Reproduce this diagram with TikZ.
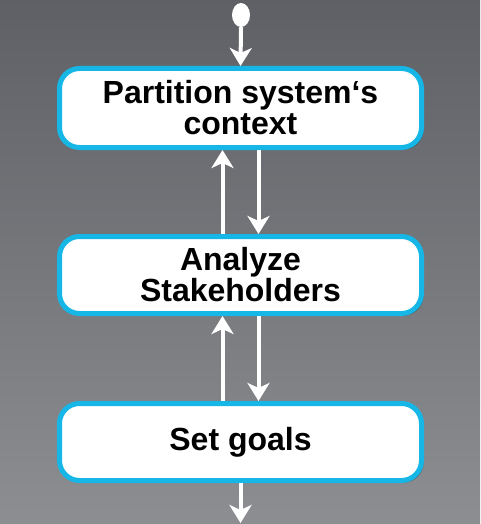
\documentclass[tikz,border=0pt]{standalone}
\usepackage{fontspec}
\setmainfont{Liberation Sans}
\usetikzlibrary{arrows.meta,shapes.geometric,shadows}
\definecolor{bgtop}{RGB}{94,96,101}
\definecolor{bgbot}{RGB}{140,142,145}
\definecolor{boxcyan}{RGB}{22,182,230}
\tikzset{
  stepbox/.style={rectangle, rounded corners=20pt, draw=boxcyan, line width=5pt,
    fill=white, minimum width=362pt, align=center,
    font=\fontsize{32}{31}\selectfont\bfseries, text=black,
    drop shadow={shadow xshift=2pt, shadow yshift=-2pt, opacity=0.45, fill=black}},
  flow/.style={draw=white, line width=4pt,
    -{Stealth[length=18pt,width=22pt,inset=5pt]}},
  startdot/.style={ellipse, fill=white, draw=none, minimum width=18pt, minimum height=24pt, inner sep=0pt}
}
\begin{document}
\begin{tikzpicture}[x=1pt,y=-1pt]
\shade[top color=bgtop, bottom color=bgbot] (0,0) rectangle (480,524);
\useasboundingbox (0,0) rectangle (480,524);
\node[startdot] (dot) at (241,15) {};
\node[stepbox, minimum height=79pt] (b1) at (240.5,108) {Partition system‘s\\context};
\node[stepbox, minimum height=77pt] (b2) at (240.5,275) {Analyze\\Stakeholders};
\node[stepbox, minimum height=77pt] (b3) at (240.5,442) {Set goals};
\coordinate (end) at (240.5,523);
\draw[flow] (dot.south) -- (b1.north);
\draw[flow] ([xshift=-18pt]b2.north) -- ([xshift=-18pt]b1.south);
\draw[flow] ([xshift=18pt]b1.south) -- ([xshift=18pt]b2.north);
\draw[flow] ([xshift=-18pt]b3.north) -- ([xshift=-18pt]b2.south);
\draw[flow] ([xshift=18pt]b2.south) -- ([xshift=18pt]b3.north);
\draw[flow] (b3.south) -- (end);
\end{tikzpicture}
\end{document}
